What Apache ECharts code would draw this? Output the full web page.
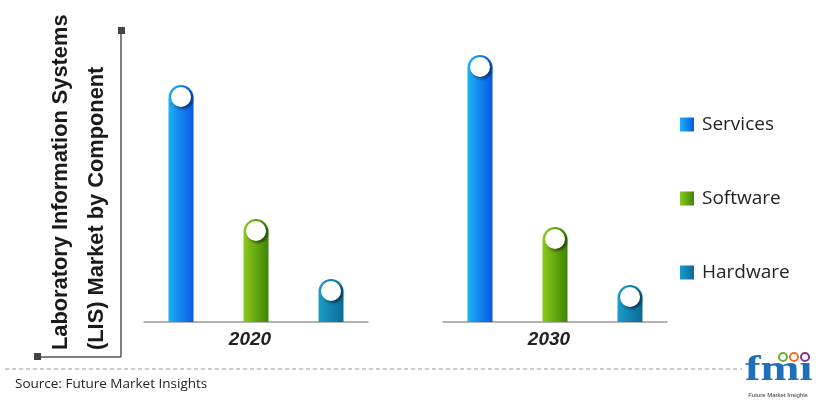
<!DOCTYPE html>
<html><head><meta charset="utf-8">
<script src="https://cdn.jsdelivr.net/npm/echarts@6/dist/echarts.min.js"></script>
<style>html,body{margin:0;padding:0;background:#fff}#c{width:820px;height:401px}</style>
</head><body><div id="c"></div><script>
// ---- data ----
const years = ['2020', '2030'];
const seriesNames = ['Services', 'Software', 'Hardware'];
const services = [237, 267];
const software = [103, 95];
const hardware = [43, 37];
const valueMax = 272;
const titleLines = ['Laboratory Information Systems', '(LIS) Market by Component'];
const sourceText = 'Source: Future Market Insights';

const values = [services, software, hardware];
const grad = (a, b) => ({ type: 'linear', x: 0, y: 0, x2: 1, y2: 0,
  colorStops: [{ offset: 0, color: a }, { offset: 1, color: b }] });
const colors = [grad('#1bb2f4', '#0a58e6'), grad('#8cc81c', '#3c8606'), grad('#1a9ccc', '#0c6a96')];

const chart = echarts.init(document.getElementById('c'), null, { renderer: 'canvas' });

const grids = [{ left: 144, width: 224, top: 50, bottom: 79 }, { left: 443, width: 224, top: 50, bottom: 79 }];
const xAxes = years.map((y, i) => ({
  type: 'category', gridIndex: i, data: [y],
  axisLine: { show: true, lineStyle: { color: '#9a9a9a', width: 1.5 } },
  axisTick: { show: false },
  axisLabel: { margin: 8, fontSize: 19, fontWeight: 'bold', fontStyle: 'italic', color: '#222',
    fontFamily: 'Liberation Sans', padding: [0, 12, 0, 0] }
}));
const yAxes = years.map((y, i) => ({ type: 'value', gridIndex: i, min: 0, max: valueMax, show: false }));

const series = [];
years.forEach((y, gi) => {
  seriesNames.forEach((name, si) => {
    series.push({
      type: 'bar', name: name, xAxisIndex: gi, yAxisIndex: gi,
      data: [values[si][gi]], barWidth: 25, barGap: '200%',
      itemStyle: { color: colors[si], borderRadius: [12.5, 12.5, 0, 0] },
      label: { show: true, position: 'insideTop', distance: 2, formatter: '{d|}',
        rich: { d: { width: 20, height: 20, borderRadius: 10, backgroundColor: '#fff',
          shadowBlur: 3, shadowColor: 'rgba(0,0,0,0.5)', shadowOffsetX: 2, shadowOffsetY: 2 } } },
      emphasis: { disabled: true }
    });
  });
});

const graphic = [
  { type: 'line', shape: { x1: 121, y1: 31, x2: 121, y2: 357 }, style: { stroke: '#555', lineWidth: 1.5 } },
  { type: 'line', shape: { x1: 38, y1: 357, x2: 121, y2: 357 }, style: { stroke: '#555', lineWidth: 1.5 } },
  { type: 'rect', shape: { x: 118, y: 27, width: 7, height: 7 }, style: { fill: '#444' } },
  { type: 'rect', shape: { x: 34, y: 353, width: 7, height: 7 }, style: { fill: '#444' } },
  { type: 'text', x: 61, y: 350, rotation: Math.PI / 2,
    style: { text: titleLines[0], font: 'bold 21.8px "Liberation Sans"', fill: '#1a1a1a', align: 'left', verticalAlign: 'middle' } },
  { type: 'text', x: 97, y: 350, rotation: Math.PI / 2,
    style: { text: titleLines[1], font: 'bold 21.8px "Liberation Sans"', fill: '#1a1a1a', align: 'left', verticalAlign: 'middle' } },
  { type: 'line', shape: { x1: 5, y1: 369, x2: 742, y2: 369 }, style: { stroke: '#999', lineWidth: 1, lineDash: [4, 3] } },
  { type: 'text', x: 15, y: 384, style: { text: sourceText, font: '13.5px "Open Sans"', fill: '#222', verticalAlign: 'middle' } },
  // logo
  { type: 'text', x: 745, y: 353, scaleX: 1.3, style: { text: 'fmi', font: 'bold 36px "Liberation Serif"', fill: '#1f6fb8' } },
  { type: 'circle', shape: { cx: 783, cy: 357, r: 4 }, style: { fill: '#fff', stroke: '#6ab42d', lineWidth: 2 } },
  { type: 'circle', shape: { cx: 794, cy: 357, r: 4 }, style: { fill: '#fff', stroke: '#e8742a', lineWidth: 2 } },
  { type: 'circle', shape: { cx: 805, cy: 357, r: 4 }, style: { fill: '#fff', stroke: '#7a3a9a', lineWidth: 2 } },
  { type: 'text', x: 778, y: 392, style: { text: 'Future Market Insights', font: '6px "Liberation Sans"', fill: '#333', align: 'center' } }
];

chart.setOption({
  backgroundColor: '#fff',
  animation: false,
  grid: grids,
  xAxis: xAxes,
  yAxis: yAxes,
  legend: {
    data: seriesNames, orient: 'vertical', left: 680, top: 115, padding: 0,
    icon: 'rect', itemWidth: 14, itemHeight: 14, itemGap: 55,
    textStyle: { fontSize: 19, color: '#222', fontFamily: 'Open Sans', padding: [0, 0, 0, 3] },
    selectedMode: false
  },
  series: series,
  graphic: graphic
});
</script></body></html>
